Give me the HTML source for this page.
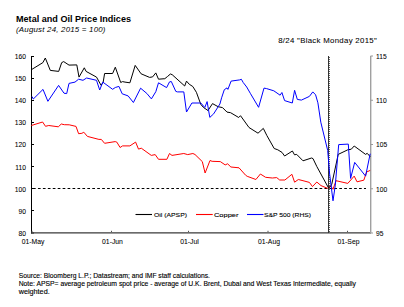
<!DOCTYPE html>
<html><head><meta charset="utf-8"><style>
html,body{margin:0;padding:0;background:#fff;width:404px;height:307px;overflow:hidden}
svg{display:block}
text{font-family:"Liberation Sans",sans-serif;fill:#000}
</style></head><body>
<svg width="404" height="307" viewBox="0 0 404 307">
<rect width="404" height="307" fill="#fff"/>
<text x="16" y="22.2" font-size="9.5" font-weight="bold" textLength="115" lengthAdjust="spacingAndGlyphs">Metal and Oil Price Indices</text>
<text x="16" y="32.4" font-size="7.9" font-style="italic" textLength="89.5" lengthAdjust="spacing">(August 24, 2015 = 100)</text>
<text x="278.2" y="42.8" font-size="7.8" textLength="98.5" lengthAdjust="spacing" stroke="#000" stroke-width="0.06">8/24 "Black Monday 2015"</text>
<g stroke="#000" stroke-width="1">
<line x1="31.5" y1="56" x2="31.5" y2="233.5"/>
<line x1="31.5" y1="233.00" x2="34" y2="233.00"/><line x1="31.5" y1="210.50" x2="34" y2="210.50"/><line x1="31.5" y1="188.50" x2="34" y2="188.50"/><line x1="31.5" y1="166.50" x2="34" y2="166.50"/><line x1="31.5" y1="144.50" x2="34" y2="144.50"/><line x1="31.5" y1="122.50" x2="34" y2="122.50"/><line x1="31.5" y1="100.50" x2="34" y2="100.50"/><line x1="31.5" y1="78.50" x2="34" y2="78.50"/><line x1="31.5" y1="56.50" x2="34" y2="56.50"/>
</g>
<line x1="31" y1="232.9" x2="371" y2="232.9" stroke="#3a3a3a" stroke-width="1.25"/>
<g stroke="#555" stroke-width="1"><line x1="32" y1="232" x2="32" y2="230.8"/><line x1="111.5" y1="232" x2="111.5" y2="230.8"/><line x1="188.5" y1="232" x2="188.5" y2="230.8"/><line x1="268" y1="232" x2="268" y2="230.8"/><line x1="347.5" y1="232" x2="347.5" y2="230.8"/></g>
<line x1="370.7" y1="56" x2="370.7" y2="233" stroke="#a0a0a0" stroke-width="1.4"/>
<g stroke="#999" stroke-width="1"><line x1="370.5" y1="233.00" x2="373" y2="233.00"/><line x1="370.5" y1="188.75" x2="373" y2="188.75"/><line x1="370.5" y1="144.50" x2="373" y2="144.50"/><line x1="370.5" y1="100.25" x2="373" y2="100.25"/><line x1="370.5" y1="56.00" x2="373" y2="56.00"/></g>
<line x1="33" y1="188.5" x2="366" y2="188.5" stroke="#000" stroke-width="1" stroke-dasharray="2.7,2.24"/>
<rect x="328" y="56" width="1" height="177" fill="#333"/>
<line x1="329.5" y1="57" x2="329.5" y2="233" stroke="#666" stroke-width="1" stroke-dasharray="1,1"/>
<g font-size="6.7" text-anchor="end" stroke="#000" stroke-width="0.06"><text x="26" y="235.90">80</text><text x="26" y="213.78">90</text><text x="26" y="191.65">100</text><text x="26" y="169.53">110</text><text x="26" y="147.40">120</text><text x="26" y="125.28">130</text><text x="26" y="103.15">140</text><text x="26" y="81.03">150</text><text x="26" y="58.90">160</text></g>
<g font-size="6.7" stroke="#000" stroke-width="0.06"><text x="376" y="235.90">95</text><text x="376" y="191.65">100</text><text x="376" y="147.40">105</text><text x="376" y="103.15">110</text><text x="376" y="58.90">115</text></g>
<g font-size="6.8" text-anchor="middle" stroke="#000" stroke-width="0.06"><text x="33" y="244">01-May</text><text x="112.5" y="244">01-Jun</text><text x="189.5" y="244">01-Jul</text><text x="269" y="244">01-Aug</text><text x="348.5" y="244">01-Sep</text></g>
<g fill="none" stroke-width="1" stroke-linejoin="round">
<polyline stroke="#ff0000" points="31.3,125.5 42.6,122 45.5,126.3 48.8,125.5 58.3,126.8 61.3,124 64.3,124.7 69.2,124.8 76,126.4 78.6,133.7 81.9,133.3 83.8,132.2 87.4,136.4 98.9,139.4 101.3,139.4 104.6,143.3 115.2,141.6 116.8,142.1 120.1,147.5 122.5,145.9 129.9,145.9 135.6,142.1 138.5,149.1 141.3,148.2 151.3,155.4 155.2,154.6 158.5,159.3 166.9,159.3 169.5,153.5 172,155.4 183.8,153.5 187.7,154.6 192.9,153.5 195,154.5 202.3,161.6 205.1,173 210,160.5 212.1,161.3 220.3,161.6 225.2,164.9 227.6,163.8 230.9,167 239,167.8 245.6,175.2 247.2,176.3 255.9,179.5 260.4,174 265.6,177.3 272.3,178 276.7,177.6 279.7,180 284.9,180 291.9,174.3 294.6,182.2 298.3,179.5 303,180.7 309.4,182.4 312.5,186.6 316.8,182 321,185.6 327.4,188.3 330.7,186 333,189.3 336,180.7 347.8,183.4 354.2,176.1 357,181.8 363.8,180.2 366.6,172 370.2,170.4"/>
<polyline stroke="#000" points="31.5,69.6 42.9,62.6 45.3,58 50.3,70.4 58.7,71.4 61.7,62.6 63.7,61.6 69,65.1 76.8,64.9 79,77.1 84.3,67.8 86.1,71.4 96.5,77.1 101,85.2 103.1,82.6 104.6,73.5 112.6,73.5 115.3,67.2 120.7,82.5 122.5,81.6 125,82.1 129.9,82.8 135.2,65.4 141.1,73.8 149.6,77.4 152.6,76.9 155.8,72.9 158.5,79.2 164.8,78.7 167.5,76.5 170.4,74 172.2,74.7 184.7,86 186.5,81.1 189.2,84.2 192.8,86.5 196.4,92.3 200.8,104.4 203.5,107.5 208,110.5 212.5,103.6 218.1,106.7 222.5,107.6 227,112.1 230.6,112.7 238.7,117.5 240.5,115.7 249,127.5 258,133.2 263.3,128.4 266.9,135.6 274.2,148.5 277.8,149.8 282,152.4 284.6,156 292.4,151 294.5,154.8 296.7,154.4 303,160.8 311.5,158 313,158.6 316.8,166.5 328.4,187.7 330.8,186.2 331.8,184.1 338.2,154.4 347.8,149.8 351.3,149.2 354.2,146 365.6,154.4 367.2,153.3 370.2,156.7"/>
<polyline stroke="#0000ff" points="32,96.5 33.3,99 43,89.4 47.9,101.3 58.6,85.4 64,93.2 66.7,93.6 69,83.4 75,82.1 78.6,79.2 83,80.3 86.6,78 96.5,80.3 99.7,90 102.8,82.1 112.6,89.3 115.3,87.5 118.9,86.4 122.2,93.8 128.1,95.9 133.4,102.5 140.6,88.2 146.9,93.5 151.4,98.9 155.8,91.7 158.5,82.8 166.6,87.6 169.5,81.9 171.3,81.5 175.8,91.4 177.5,91.9 183.8,91.9 186.5,112 191.9,103 200.8,103 204.8,107.5 207.1,101.6 209.8,117.4 213.6,113.9 219.9,104 221.6,97.8 224.3,89.7 227,87.9 227.9,89.4 231.1,81.1 239.6,79.9 241.4,79.3 243.2,82.5 246.7,87 250.3,93.3 258.6,107.3 264,88.1 266.6,88.6 273.8,90.8 280.1,95.2 281.9,92.5 284.6,100.6 292.3,103 294.6,90.3 297.3,99.4 301.4,100.1 309.4,96.4 312.8,91.9 315.6,94.8 317.9,102.8 320.8,122.2 327.7,150.5 329.6,173.8 333,200.8 335.3,185.2 338.7,144.6 348.3,144.1 350.6,178.4 354.7,162.4 365.6,176.1 370.2,153.7"/>
</g>
<g stroke-width="1.1">
<line x1="135.5" y1="214.5" x2="152" y2="214.5" stroke="#000"/>
<line x1="196" y1="214.5" x2="212.7" y2="214.5" stroke="#ff0000"/>
<line x1="247" y1="214.5" x2="263.5" y2="214.5" stroke="#0000ff"/>
</g>
<g font-size="6.1" stroke="#000" stroke-width="0.1">
<text x="154" y="217.2" textLength="33" lengthAdjust="spacingAndGlyphs">Oil (APSP)</text>
<text x="214" y="217.2" textLength="24.4" lengthAdjust="spacingAndGlyphs">Copper</text>
<text x="264" y="217.2" textLength="47" lengthAdjust="spacingAndGlyphs">S&amp;P 500 (RHS)</text>
</g>
<g font-size="6.4" stroke="#000" stroke-width="0.12">
<text x="18.7" y="277.9" textLength="191.3" lengthAdjust="spacingAndGlyphs">Source: Bloomberg L.P.; Datastream; and IMF staff calculations.</text>
<text x="18.7" y="285.8" textLength="337.3" lengthAdjust="spacingAndGlyphs">Note: APSP= average petroleum spot price - average of U.K. Brent, Dubai and West Texas Intermediate, equally</text>
<text x="18.7" y="293.7" textLength="31" lengthAdjust="spacingAndGlyphs">weighted.</text>
</g>
</svg>
</body></html>
